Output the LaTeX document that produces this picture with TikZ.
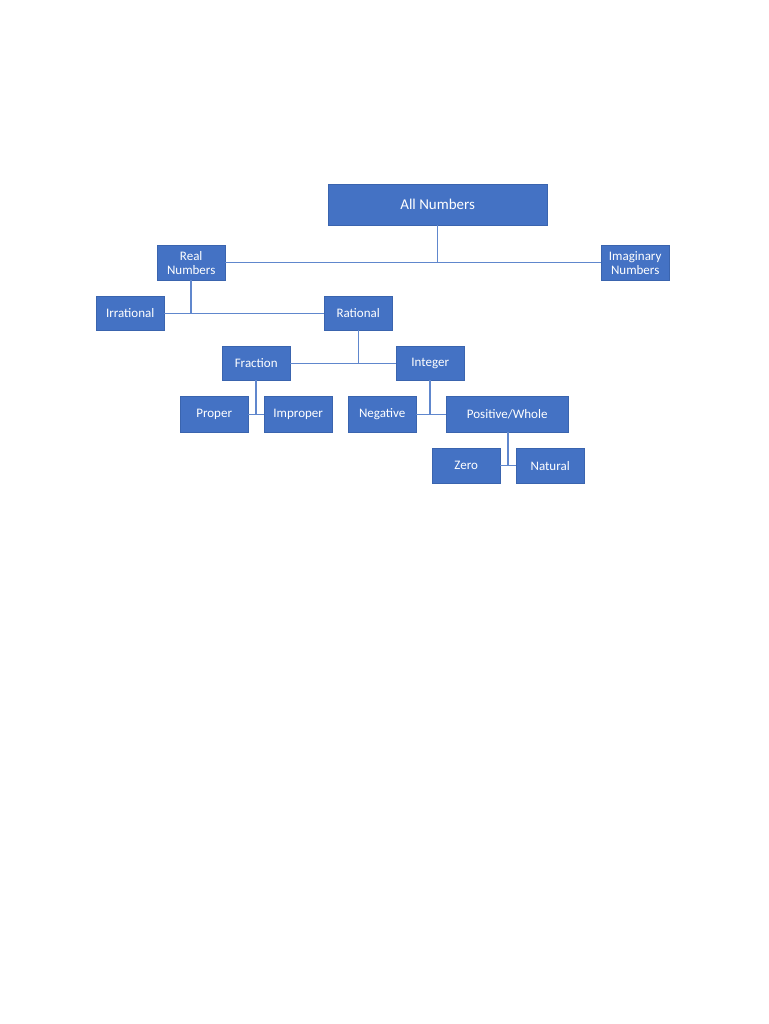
\documentclass[tikz,border=0pt]{standalone}
\usepackage{fontspec}
\setmainfont{Carlito}
\definecolor{bx}{HTML}{4472C4}
\definecolor{bd}{HTML}{3A64AE}
\begin{document}
\begin{tikzpicture}[x=1pt,y=-1pt,
  box/.style={draw=bd,fill=bx,text=white,inner sep=0pt,font=\fontsize{13}{14}\selectfont,align=center},
  ln/.style={draw=bx!85!white,line width=1.2pt}]
\useasboundingbox (0,0) rectangle (768,1024);
\newcommand\bx[6]{\node[box,minimum width=#4-#2,minimum height=#5-#3,anchor=north west] (#1) at (#2,#3) {#6};}
\bx{all}{328}{184}{547}{225}{\fontsize{15}{16}\selectfont All Numbers}
\bx{real}{157}{245}{225}{280}{Real\\Numbers}
\bx{imag}{601}{245}{669}{280}{Imaginary\\Numbers}
\bx{irr}{96}{296}{164}{330}{Irrational}
\bx{rat}{324}{296}{392}{330}{Rational}
\bx{frac}{222}{346}{290}{380}{Fraction}
\bx{int}{396}{346}{464}{380}{Integer}
\bx{prop}{180}{396}{248}{432}{Proper}
\bx{impr}{264}{396}{332}{432}{Improper}
\bx{neg}{348}{396}{416}{432}{Negative}
\bx{pos}{446}{396}{568}{432}{Positive/Whole}
\bx{zero}{432}{448}{500}{483}{Zero}
\bx{nat}{516}{448}{584}{483}{Natural}
\draw[ln] (real.east) -- (imag.west);
\draw[ln] (all.south) -- (all.south |- real.east);
\draw[ln] (irr.east) -- (rat.west);
\draw[ln] (191,280) -- (191,313);
\draw[ln] (frac.east) -- (int.west);
\draw[ln] (rat.south) -- (rat.south |- frac.east);
\draw[ln] (prop.east) -- (impr.west);
\draw[ln] (256,380) -- (256,414);
\draw[ln] (neg.east) -- (pos.west);
\draw[ln] (430,380) -- (430,414);
\draw[ln] (zero.east) -- (nat.west);
\draw[ln] (508,432) -- (508,465);
\end{tikzpicture}
\end{document}
